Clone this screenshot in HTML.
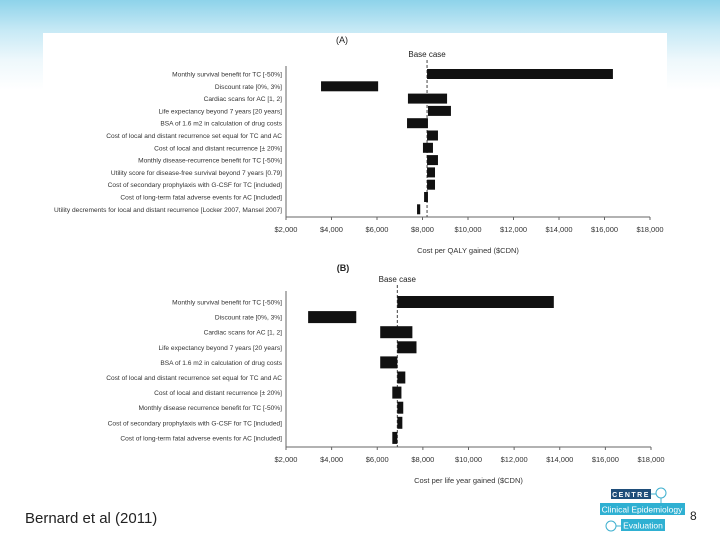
<!DOCTYPE html>
<html><head><meta charset="utf-8">
<style>
html,body{margin:0;padding:0;}
body{width:720px;height:540px;position:relative;overflow:hidden;font-family:"Liberation Sans",sans-serif;
background:linear-gradient(to bottom,#8ed3ea 0px,#c6e9f5 30px,#eef8fc 60px,#ffffff 90px);}
#panel{position:absolute;left:43px;top:33px;width:624px;height:230px;background:#fff;}
svg{position:absolute;left:0;top:0;}
.ref{position:absolute;left:25px;top:510px;font-size:15px;color:#222;}
.pg{position:absolute;left:690px;top:509px;font-size:12px;color:#222;}
</style></head>
<body>
<div id="panel"></div>
<svg id="chart" width="720" height="540"></svg>
<div class="ref">Bernard et al (2011)</div>
<div class="pg">8</div>
<svg width="720" height="540">
  <rect x="611" y="489" width="40" height="10" fill="#1f4e7a"/>
  <text x="631" y="497" font-size="7" fill="#fff" text-anchor="middle" font-weight="bold" letter-spacing="1.5" font-family="Liberation Sans,sans-serif">CENTRE</text>
  <line x1="651" y1="494" x2="656" y2="494" stroke="#3fb0cf"/>
  <circle cx="661" cy="493" r="5" fill="#fff" stroke="#3fb0cf"/>
  <line x1="661" y1="498" x2="661" y2="503" stroke="#3fb0cf"/>
  <rect x="600" y="503" width="85" height="12" fill="#2fb0d2"/>
  <text x="642" y="512.5" font-size="8.5" fill="#fff" text-anchor="middle" font-family="Liberation Sans,sans-serif">Clinical Epidemiology</text>
  <circle cx="611" cy="526" r="5" fill="#fff" stroke="#3fb0cf"/>
  <line x1="616" y1="526" x2="621" y2="526" stroke="#3fb0cf"/>
  <rect x="621" y="519" width="44" height="12" fill="#2fb0d2"/>
  <text x="643" y="528.5" font-size="8.5" fill="#fff" text-anchor="middle" font-family="Liberation Sans,sans-serif">Evaluation</text>
</svg>
<script>
const labelsA = ["Monthly survival benefit for TC [-50%]","Discount rate [0%, 3%]","Cardiac scans for AC [1, 2]","Life expectancy beyond 7 years [20 years]","BSA of 1.6 m2 in calculation of drug costs","Cost of local and distant recurrence set equal for TC and AC","Cost of local and distant recurrence [\u00b1 20%]","Monthly disease-recurrence benefit for TC [-50%]","Utility score for disease-free survival beyond 7 years [0.79]","Cost of secondary prophylaxis with G-CSF for TC [included]","Cost of long-term fatal adverse events for AC [included]","Utility decrements for local and distant recurrence [Locker 2007, Mansel 2007]"];
const lowA  = [8200,3540,7360,8240,7320,8200,8020,8200,8200,8200,8070,7760];
const highA = [16370,6050,9080,9250,8240,8680,8460,8680,8550,8550,8240,7900];
const baseA = 8200;
const labelsB = ["Monthly survival benefit for TC [-50%]","Discount rate [0%, 3%]","Cardiac scans for AC [1, 2]","Life expectancy beyond 7 years [20 years]","BSA of 1.6 m2 in calculation of drug costs","Cost of local and distant recurrence set equal for TC and AC","Cost of local and distant recurrence [\u00b1 20%]","Monthly disease recurrence benefit for TC [-50%]","Cost of secondary prophylaxis with G-CSF for TC [included]","Cost of long-term fatal adverse events for AC [included]"];
const lowB  = [6880,2970,6130,6880,6130,6880,6660,6880,6880,6660];
const highB = [13740,5080,7540,7720,6880,7230,7060,7140,7100,6880];
const baseB = 6880;
const ticks = [2000,4000,6000,8000,10000,12000,14000,16000,18000];
const tickLabels = ["$2,000","$4,000","$6,000","$8,000","$10,000","$12,000","$14,000","$16,000","$18,000"];

const svg = document.getElementById('chart');
const NS = 'http://www.w3.org/2000/svg';
function mk(tag, attrs, text){
  const e = document.createElementNS(NS, tag);
  for (const k in attrs) e.setAttribute(k, attrs[k]);
  if (text !== undefined) e.textContent = text;
  svg.appendChild(e);
  return e;
}
function draw(cfg){
  const x = v => cfg.x0 + (v-2000)/16000*(cfg.x1-cfg.x0);
  const y = i => cfg.top + i*cfg.step;
  const t = mk('text',{x:cfg.titleX,y:cfg.titleY,'font-size':9,'text-anchor':'middle',fill:'#222','font-weight':cfg.bold?'bold':'normal'},cfg.title);
  
  
  const ya = mk('line',{x1:cfg.x0,y1:cfg.axTop,x2:cfg.x0,y2:cfg.axBot,stroke:'#666','stroke-width':1});
  
  
  const xa = mk('line',{x1:cfg.x0,y1:cfg.axBot,x2:cfg.x1,y2:cfg.axBot,stroke:'#666','stroke-width':1});
  
  
  ticks.forEach((v,i)=>{
    mk('line',{x1:x(v),y1:cfg.axBot,x2:x(v),y2:cfg.axBot+3,stroke:'#666'});
    const tl = mk('text',{x:x(v),y:cfg.axBot+15,'font-size':7.5,'text-anchor':'middle',fill:'#333'},tickLabels[i]);
    
    
  });
  const xt = mk('text',{x:(cfg.x0+cfg.x1)/2,y:cfg.axBot+36,'font-size':7.5,'text-anchor':'middle',fill:'#333'},cfg.xtitle);
  
  
  const bl = mk('line',{x1:x(cfg.base),y1:cfg.axTop-6,x2:x(cfg.base),y2:cfg.axBot,stroke:'#444','stroke-dasharray':'3,2','stroke-width':1});
  
  
  const bt = mk('text',{x:x(cfg.base),y:cfg.axTop-9,'font-size':8,'text-anchor':'middle',fill:'#222'},'Base case');
  
  
  cfg.labels.forEach((lab,i)=>{
    const l = mk('text',{x:cfg.x0-4,y:y(i)+2.5,'font-size':cfg.fs,'text-anchor':'end',fill:'#333'},lab);
    
    
    const b = mk('rect',{x:x(cfg.low[i]),y:y(i)-cfg.bh/2,width:Math.max(1.5,x(cfg.high[i])-x(cfg.low[i])),height:cfg.bh,fill:'#111'});
    
    
  });
}
draw({id:'chart-a',title:'(A)',bold:false,titleX:342,titleY:43,x0:286,x1:650,top:74,step:12.3,bh:10,axTop:66,axBot:217,fs:6.6,
  labels:labelsA,low:lowA,high:highA,base:baseA,xtitle:'Cost per QALY gained ($CDN)'});
draw({id:'chart-b',title:'(B)',bold:true,titleX:343,titleY:271,x0:286,x1:651,top:302,step:15.1,bh:12,axTop:291,axBot:447,fs:6.6,
  labels:labelsB,low:lowB,high:highB,base:baseB,xtitle:'Cost per life year gained ($CDN)'});
</script>
</body></html>
